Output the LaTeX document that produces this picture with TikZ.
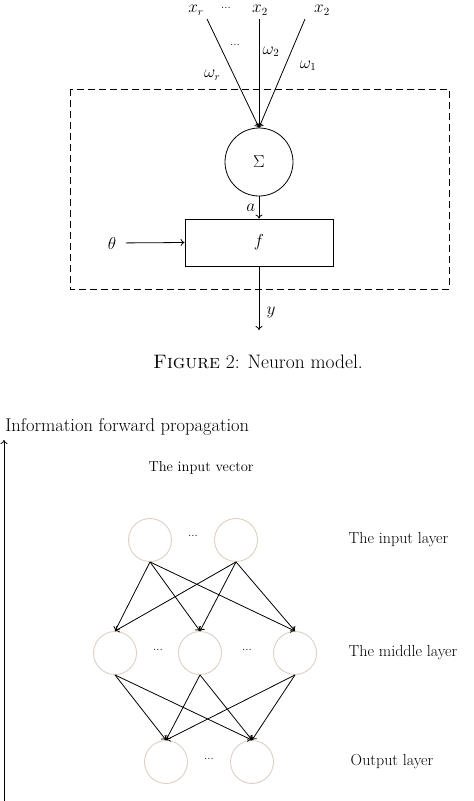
\documentclass[tikz,border=0pt]{standalone}
\usepackage{amsmath,amssymb}
\usepackage{tikz}
\usetikzlibrary{arrows.meta}

\definecolor{cellline}{RGB}{220,208,194}
\tikzset{
  txt/.style={font=\fontsize{16}{19}\selectfont},
  mth/.style={font=\fontsize{16}{19}\selectfont},
  unit/.style={draw=cellline,circle,line width=0.9pt,minimum size=43pt,inner sep=0pt},
  link/.style={-{To[length=4pt,width=7pt]},line width=0.8pt},
  dots/.style={font=\fontsize{12}{14}\selectfont}
}

\begin{document}
\begin{tikzpicture}[x=1pt,y=-1pt,line width=0.8pt]
  \useasboundingbox (0,0) rectangle (474,801);
  % neuron model
  \node[mth,inner sep=1pt] (xr) at (196,10) {$x_r$};
  \node[dots,inner sep=1pt] (xdots) at (226,8) {...};
  \node[mth,inner sep=1pt] (xb) at (260,10) {$x_2$};
  \node[mth,inner sep=1pt] (xa) at (322,10) {$x_2$};
  \coordinate (inr) at (207,19);
  \coordinate (inb) at (259,19);
  \coordinate (ina) at (305,19);
  \node[draw,circle,minimum size=68pt,inner sep=0pt,font=\fontsize{18}{20}\selectfont] (sum) at (259,162) {$\Sigma$};
  \node[draw,minimum width=148pt,minimum height=47pt,mth] (act) at (259,242.5) {$f$};
  \draw[dash pattern=on 7pt off 4pt] (70,89) rectangle (449,289);
  \draw[link] (inr) -- node[left,pos=0.52,mth,xshift=-10pt] (wr) {$\omega_r$} (sum.north);
  \draw[link] (inb) -- node[right,pos=0.3,mth] (wb) {$\omega_2$} (sum.north);
  \draw[link] (ina) -- node[right,pos=0.43,mth,xshift=11pt] (wa) {$\omega_1$} (sum.north);
  \node[dots] (wdots) at (235,45) {...};
  \draw[link] (sum.south) -- node[left,midway,mth] (a) {$a$} (act.north);
  \node[mth] (theta) at (112,243) {$\theta$};
  \draw[link,shorten <=6pt] (theta) -- (act.west);
  \coordinate (yout) at (259,330);
  \draw[link] (act.south) -- node[right,pos=0.73,mth,xshift=4pt] (y) {$y$} (yout);
  \node[font=\fontsize{19.5}{22}\selectfont] (cap) at (258,362) {\textsc{Figure} 2: Neuron model.};

  % back propagation network
  \node[font=\fontsize{18.5}{21}\selectfont,anchor=west,inner sep=0pt] (prop) at (5,427) {Information forward propagation};
  \coordinate (pbot) at (4,801);
  \coordinate (ptop) at (4,440);
  \draw[link] (pbot) -- (ptop);
  \node[font=\fontsize{14.5}{17}\selectfont] (vec) at (201,468) {The input vector};

  \node[unit] (i1) at (150,540) {};
  \node[unit] (i2) at (236,540) {};
  \node[dots] (idots) at (193,536) {...};
  \node[txt,anchor=west] (ilbl) at (345,540) {The input layer};

  \node[unit] (m1) at (115,653) {};
  \node[unit] (m2) at (200,653) {};
  \node[unit] (m3) at (295,653) {};
  \node[dots] (mdots1) at (158,650) {...};
  \node[dots] (mdots2) at (247,650) {...};
  \node[txt,anchor=west] (mlbl) at (345,653) {The middle layer};

  \node[unit] (o1) at (166,762) {};
  \node[unit] (o2) at (252,762) {};
  \node[dots] (odots) at (209,759) {...};
  \node[txt,anchor=west] (olbl) at (347,762) {Output layer};

  \foreach \a in {i1,i2}
    \foreach \b in {m1,m2,m3}
      \draw[link] (\a.south) -- (\b.north);
  \foreach \a in {m1,m2,m3}
    \foreach \b in {o1,o2}
      \draw[link] (\a.south) -- (\b.north);
\end{tikzpicture}
\end{document}
